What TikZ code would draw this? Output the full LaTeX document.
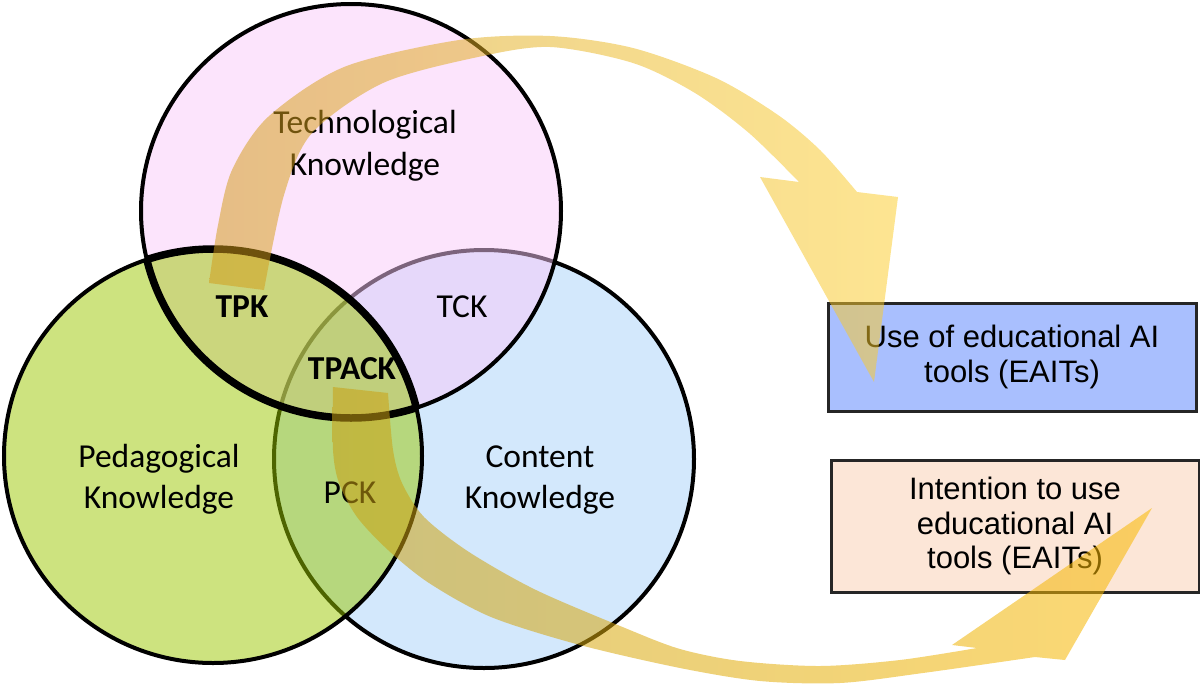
\documentclass[tikz,border=0pt]{standalone}
\usepackage{fontspec}
\setmainfont{Carlito}
\newfontfamily\arialfont{Liberation Sans}
\definecolor{pinkC}{RGB}{249,201,249}
\definecolor{greenC}{RGB}{155,200,0}
\definecolor{blueC}{RGB}{211,232,252}
\definecolor{boxA}{RGB}{169,191,254}
\definecolor{boxB}{RGB}{252,230,215}
\definecolor{arA}{RGB}{210,155,25}
\definecolor{arB}{RGB}{252,205,45}
\definecolor{arC}{RGB}{200,160,20}
\definecolor{arD}{RGB}{250,185,0}
\begin{document}
\begin{tikzpicture}[x=1pt,y=-1pt,
  circ/.style={line width=4pt},
  lens/.style={line width=7.5pt},
  lbl/.style={font=\fontsize{33.5}{41}\selectfont, align=center, inner sep=0pt},
  blbl/.style={font=\fontsize{33.5}{41}\selectfont\bfseries, inner sep=0pt},
  boxnode/.style={draw=black!85, line width=3pt, minimum width=368, align=center, inner sep=0pt},
  boxfont/.style={font=\arialfont\fontsize{31}{34.5}\selectfont}]
\useasboundingbox (0,0) rectangle (1200,686);
\coordinate (cP) at (351,211);
\coordinate (cG) at (213,456);
\coordinate (cB) at (484,459);
% circles
\draw[circ, fill=blueC] (cB) ellipse [x radius=210, y radius=209];
\draw[circ, fill=pinkC, fill opacity=0.5] (cP) ellipse [x radius=210, y radius=207];
\draw[circ, fill=greenC, fill opacity=0.5] (cG) ellipse [x radius=209, y radius=207];
% thick lens TPK/TPACK
\begin{scope}
  \clip (cG) ellipse [x radius=209, y radius=207];
  \draw[lens] (cP) ellipse [x radius=210, y radius=207];
\end{scope}
\begin{scope}
  \clip (cP) ellipse [x radius=210, y radius=207];
  \draw[lens] (cG) ellipse [x radius=209, y radius=207];
\end{scope}
% labels
\node[lbl, anchor=base] (tk1) at (365,133) {Technological};
\node[lbl, anchor=base] (tk2) at (365,175) {Knowledge};
\node[lbl, anchor=base] (pk1) at (159,467) {Pedagogical};
\node[lbl, anchor=base] (pk2) at (159,508) {Knowledge};
\node[lbl, anchor=base] (ck1) at (540,467) {Content};
\node[lbl, anchor=base] (ck2) at (540,508) {Knowledge};
\node[blbl, anchor=base] (tpk) at (242,317) {TPK};
\node[lbl, anchor=base] (tck) at (462,317) {TCK};
\node[blbl, anchor=base] (tpack) at (352,379) {TPACK};
\node[lbl, anchor=base] (pck) at (350,503) {PCK};
% boxes
\node[boxnode, boxfont, fill=boxA, minimum height=108] (use) at (1012,357)
  {Use of educational AI\\tools (EAITs)};
\node[boxnode, boxfont, fill=boxB, minimum height=132] (intent) at (1015,526)
  {Intention to use\\educational AI\\tools (EAITs)};
% arrow 1 (top)
\shade[left color=arA, right color=arB, fill opacity=0.52]
  plot[smooth] coordinates {(209,283) (218,225) (232,170) (268,117) (344,67) (459,40) (550,36) (633,48) (716,78) (778,115) (820,150) (857,192)}
  -- (898,197) -- (874,382) -- (760,177)
  -- plot[smooth] coordinates {(799,182) (749,133) (695,93) (633,63) (550,47) (478,57) (383,83) (312,133) (284,195) (264,290)}
  -- cycle;
% arrow 2 (bottom)
\shade[left color=arC, right color=arD, fill opacity=0.55]
  plot[smooth] coordinates {(333,387) (333,450) (339,483) (357,517) (388,550) (429,583) (491,617) (580,645) (680,668) (760,681) (840,683) (923,673) (1035,657)}
  -- (1065,660) -- (1152,508) -- (952,645)
  -- plot[smooth] coordinates {(977,648) (900,660) (820,666) (740,661) (680,649) (625,628) (536,590) (469,552) (424,517) (402,483) (393,450) (388,393)}
  -- cycle;
\end{tikzpicture}
\end{document}
